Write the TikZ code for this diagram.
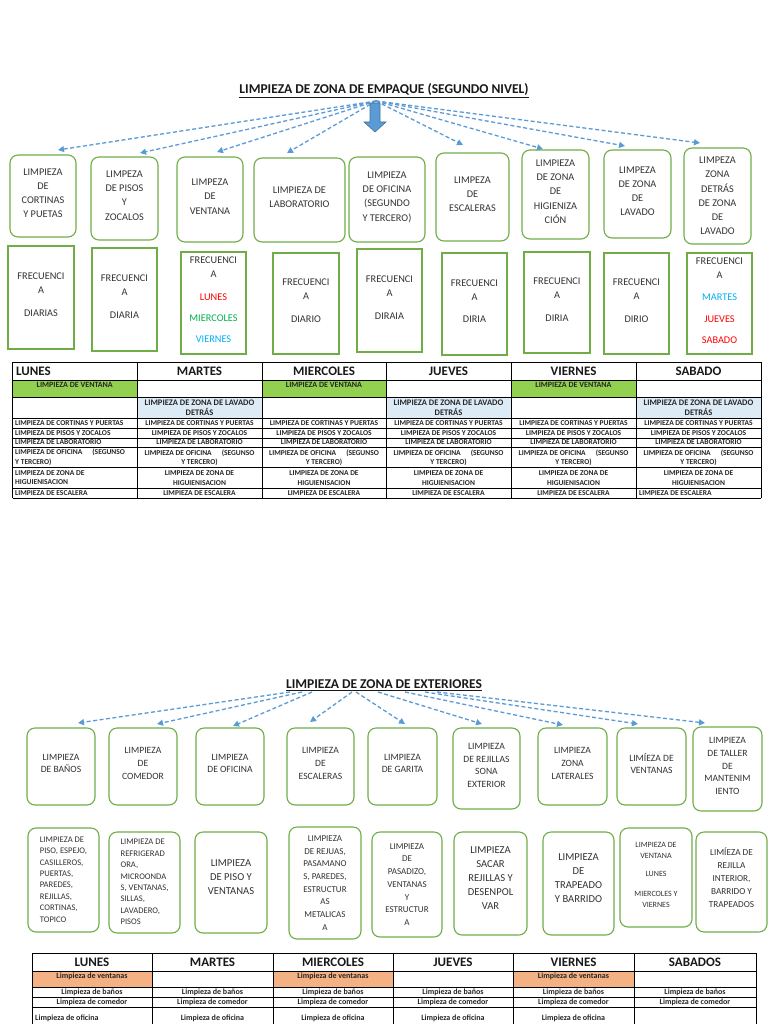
\documentclass[tikz,border=0pt]{standalone}
\usepackage{fontspec}
\setmainfont{Carlito}
\usetikzlibrary{arrows.meta}
\definecolor{grn}{HTML}{70AD47}
\definecolor{arrb}{HTML}{5B9BD5}
\definecolor{arrd}{HTML}{41719C}
\definecolor{txt}{HTML}{333333}
\definecolor{tgreen}{HTML}{92D050}
\definecolor{tblue}{HTML}{DDEBF7}
\definecolor{torange}{HTML}{F4B183}
\definecolor{fred}{HTML}{FF0000}
\definecolor{fgreen}{HTML}{00B050}
\definecolor{fcyan}{HTML}{00B0F0}
\newcommand\mybox[7]{\node[#1, minimum width={#5-#3}, minimum height={#6-#4}] (#2) at ({(#3+#5)/2},{(#4+#6)/2}) {#7};}
\begin{document}
\begin{tikzpicture}[x=1pt,y=-1pt,
  rb0/.style={draw=grn, line width=1.1pt, rounded corners=8pt, inner sep=0pt, align=center, text=txt},
  rbox/.style={rb0, text depth=6pt},
  sbox/.style={draw=grn, line width=1.1pt, inner sep=0pt, align=center, text=txt, text depth=6pt},
  fA/.style={font=\fontsize{10.3}{14.2}\selectfont},
  fB/.style={font=\fontsize{9.6}{12.6}\selectfont},
  fC/.style={font=\fontsize{8.6}{11.4}\selectfont},
  fD/.style={font=\fontsize{9}{12.7}\selectfont},
  fE/.style={font=\fontsize{10.6}{14}\selectfont},
  ttl/.style={font=\fontsize{13.5}{16}\selectfont\bfseries, inner sep=0pt, text=black!90},
  th/.style={font=\fontsize{13}{15}\selectfont\bfseries, inner sep=0pt, text=black!90},
  tt/.style={font=\fontsize{7.5}{9.3}\selectfont\bfseries, inner sep=0pt, text=black!85, align=center},
  tm/.style={font=\fontsize{8.5}{9.5}\selectfont\bfseries, inner sep=0pt, text=black!85, align=center},
  tl/.style={font=\fontsize{8}{10}\selectfont\bfseries, inner sep=0pt, text=black!85, align=center},
  tline/.style={draw=black, line width=0.6pt},
  dsh/.style={draw=arrb, line width=1.3pt, dash pattern=on 4pt off 2.5pt, -{Triangle[length=6pt,width=6pt]}}]
\useasboundingbox (0,0) rectangle (768,1024);
\fill[white] (0,0) rectangle (768,1024);

% ---------- Section 1 ----------
\node[ttl] (t1) at (384,91) {\underline{LIMPIEZA DE ZONA DE EMPAQUE (SEGUNDO NIVEL)}};
\coordinate (o1) at (376,101);
\foreach \n/\x/\y in {1/58/150, 2/140/153, 3/217/152, 4/287/153, 5/463/145, 6/543/149, 7/625/146, 8/700/143}{
  \coordinate (e\n) at (\x,\y);
  \draw[dsh] (o1) -- (e\n);
}
\filldraw[fill=arrb, draw=arrd, line width=0.6pt] (370,103) -- (380,103) -- (380,122) -- (386,122) -- (375,132) -- (364,122) -- (370,122) -- cycle;

\mybox{rbox,fA}{a1}{10}{155}{76}{237}{LIMPIEZA\\DE\\CORTINAS\\Y PUETAS}
\mybox{rbox,fA}{a2}{91}{157}{158}{240}{LIMPEZA\\DE PISOS\\Y\\ZOCALOS}
\mybox{rbox,fA}{a3}{177}{157}{243}{242}{LIMPEZA\\DE\\VENTANA}
\mybox{rbox,fA}{a4}{254}{158}{345}{242}{LIMPIEZA DE\\LABORATORIO}
\mybox{rbox,fA}{a5}{349}{157}{425}{242}{LIMPIEZA\\DE OFICINA\\(SEGUNDO\\Y TERCERO)}
\mybox{rbox,fA}{a6}{436}{153}{509}{241}{LIMPEZA\\DE\\ESCALERAS}
\mybox{rbox,fA}{a7}{522}{150}{589}{239}{LIMPIEZA\\DE ZONA\\DE\\HIGIENIZA\\CIÓN}
\mybox{rbox,fA}{a8}{604}{150}{671}{238}{LIMPEZA\\DE ZONA\\DE\\LAVADO}
\mybox{rb0,fA}{a9}{684}{148}{751}{244}{LIMPEZA\\ZONA\\DETRÁS\\DE ZONA\\DE\\LAVADO}

\mybox{sbox,fA}{f1}{8}{246}{74}{349}{FRECUENCI\\A\\[8pt]DIARIAS}
\mybox{sbox,fA}{f2}{92}{248}{157}{351}{FRECUENCI\\A\\[8pt]DIARIA}
\mybox{sbox,fA}{f3}{181}{252}{246}{354}{FRECUENCI\\A\\[8pt]\textcolor{fred}{LUNES}\\[7.5pt]\textcolor{fgreen}{MIERCOLES}\\[7pt]\textcolor{fcyan}{VIERNES}}
\mybox{sbox,fA}{f4}{273}{253}{339}{354}{FRECUENCI\\A\\[8pt]DIARIO}
\mybox{sbox,fA}{f5}{357}{249}{422}{352}{FRECUENCI\\A\\[8pt]DIRAIA}
\mybox{sbox,fA}{f6}{442}{253}{507}{355}{FRECUENCI\\A\\[8pt]DIRIA}
\mybox{sbox,fA}{f7}{524}{252}{590}{353}{FRECUENCI\\A\\[8pt]DIRIA}
\mybox{sbox,fA}{f8}{604}{253}{669}{354}{FRECUENCI\\A\\[8pt]DIRIO}
\mybox{sbox,fA}{f9}{687}{253}{752}{354}{FRECUENCI\\A\\[8pt]\textcolor{fcyan}{MARTES}\\[7.5pt]\textcolor{fred}{JUEVES}\\[7pt]\textcolor{fred}{SABADO}}

% ---------- Table 1 ----------
\fill[tgreen] (12.5,380) rectangle (137,397) (262,380) rectangle (386,397) (511,380) rectangle (636,397);
\fill[tblue] (137,397) rectangle (262,418) (386,397) rectangle (511,418) (636,397) rectangle (761,418);
\foreach \y in {362,380,397,418,428,438,447,467,488,498} \draw[tline] (12.5,\y) -- (761,\y);
\foreach \x in {12.5,137,262,386,511,636,761} \draw[tline] (\x,362) -- (\x,498);

\node[th, anchor=west] (h1) at (16,371) {LUNES};
\node[th] (h2) at (199.5,371) {MARTES};
\node[th] (h3) at (324,371) {MIERCOLES};
\node[th] (h4) at (448.5,371) {JUEVES};
\node[th] (h5) at (573.5,371) {VIERNES};
\node[th] (h6) at (698.5,371) {SABADO};

\node[tl] (g1) at (74.75,385) {LIMPIEZA DE VENTANA};
\node[tl] (g3) at (324,385) {LIMPIEZA DE VENTANA};
\node[tl] (g5) at (573.5,385) {LIMPIEZA DE VENTANA};
\node[tm] (l2) at (199.5,407.5) {LIMPIEZA DE ZONA DE LAVADO\\DETRÁS};
\node[tm] (l4) at (448.5,407.5) {LIMPIEZA DE ZONA DE LAVADO\\DETRÁS};
\node[tm] (l6) at (698.5,407.5) {LIMPIEZA DE ZONA DE LAVADO\\DETRÁS};

\node[tt, anchor=west] (r1c1) at (15,423) {LIMPIEZA DE CORTINAS Y PUERTAS};
\node[tt, anchor=west] (r2c1) at (15,433) {LIMPIEZA DE PISOS Y ZOCALOS};
\node[tt, anchor=west] (r3c1) at (15,442.5) {LIMPIEZA DE LABORATORIO};
\node[tt, anchor=west] (r4c1) at (15,457.5) {\begin{tabular}{@{}l@{}}LIMPIEZA DE OFICINA\hspace{10pt}(SEGUNSO\\Y TERCERO)\end{tabular}};
\node[tt, anchor=west] (r5c1) at (15,478) {\begin{tabular}{@{}l@{}}LIMPIEZA DE ZONA DE\\HIGUIENISACION\end{tabular}};
\node[tt, anchor=west] (r6c1) at (15,493) {LIMPIEZA DE ESCALERA};
\foreach \c/\x in {2/199.5,3/324,4/448.5,5/573.5,6/698.5}{
  \node[tt] (r1c\c) at (\x,423) {LIMPIEZA DE CORTINAS Y PUERTAS};
  \node[tt] (r2c\c) at (\x,433) {LIMPIEZA DE PISOS Y ZOCALOS};
  \node[tt] (r3c\c) at (\x,442.5) {LIMPIEZA DE LABORATORIO};
  \node[tt] (r4c\c) at (\x,457.5) {LIMPIEZA DE OFICINA\hspace{10pt}(SEGUNSO\\Y TERCERO)};
  \node[tt] (r5c\c) at (\x,478) {LIMPIEZA DE ZONA DE\\HIGUIENISACION};
}
\foreach \c/\x in {2/199.5,3/324,4/448.5,5/573.5}{
  \node[tt] (r6c\c) at (\x,493) {LIMPIEZA DE ESCALERA};
}
\node[tt, anchor=west] (r6c6) at (639,493) {LIMPIEZA DE ESCALERA};

% ---------- Section 2 ----------
\node[ttl] (t2) at (384,685) {\underline{LIMPIEZA DE ZONA DE EXTERIORES}};
\foreach \n/\sx/\ex/\ey in {1/290/78/723, 2/302/157/724, 3/312/233/726, 4/352/310/722, 5/356/405/724, 6/378/482/724, 7/405/563/725, 8/425/638/724, 9/437/705/723}{
  \coordinate (s\n) at (\sx,692);
  \coordinate (d\n) at (\ex,\ey);
  \draw[dsh] (s\n) -- (d\n);
}

\mybox{rbox,fB}{b1}{27}{728}{95}{805}{LIMPIEZA\\DE BAÑOS}
\mybox{rbox,fB}{b2}{109}{728}{177}{805}{LIMPIEZA\\DE\\COMEDOR}
\mybox{rbox,fB}{b3}{196}{728}{264}{805}{LIMPIEZA\\DE OFICINA}
\mybox{rbox,fB}{b4}{287}{728}{354}{805}{LIMPIEZA\\DE\\ESCALERAS}
\mybox{rbox,fB}{b5}{368}{728}{437}{805}{LIMPIEZA\\DE GARITA}
\mybox{rbox,fB}{b6}{453}{728}{520}{809}{LIMPIEZA\\DE REJILLAS\\SONA\\EXTERIOR}
\mybox{rbox,fB}{b7}{538}{728}{607}{805}{LIMPIEZA\\ZONA\\LATERALES}
\mybox{rbox,fB}{b8}{617}{728}{686}{805}{LIMÍEZA DE\\VENTANAS}
\mybox{rbox,fB}{b9}{693}{727}{762}{811}{LIMPIEZA\\DE TALLER\\DE\\MANTENIM\\IENTO}

\mybox{rb0,fC}{c1}{28}{828}{99}{932}{\begin{tabular}{@{}l@{}}LIMPIEZA DE\\PISO, ESPEJO,\\CASILLEROS,\\PUERTAS,\\PAREDES,\\REJILLAS,\\CORTINAS,\\TOPICO\end{tabular}}
\mybox{rb0,fC}{c2}{109}{832}{180}{933}{\begin{tabular}{@{}l@{}}LIMPIEZA DE\\REFRIGERAD\\ORA,\\MICROONDA\\S, VENTANAS,\\SILLAS,\\LAVADERO,\\PISOS\end{tabular}}
\mybox{rb0,fE,text depth=10pt}{c3}{195}{832}{267}{933}{LIMPIEZA\\DE PISO Y\\VENTANAS}
\mybox{rb0,fD}{c4}{289}{827}{361}{939}{LIMPIEZA\\DE REJUAS,\\PASAMANO\\S, PAREDES,\\ESTRUCTUR\\AS\\METALICAS\\A}
\mybox{rb0,fD}{c5}{372}{832}{442}{937}{LIMPIEZA\\DE\\PASADIZO,\\VENTANAS\\Y\\ESTRUCTUR\\A}
\mybox{rb0,fE,text depth=11pt}{c6}{454}{832}{527}{935}{LIMPIEZA\\SACAR\\REJILLAS Y\\DESENPOL\\VAR}
\mybox{rb0,fE,text depth=11pt}{c7}{543}{832}{614}{935}{LIMPIEZA\\DE\\TRAPEADO\\Y BARRIDO}
\mybox{rbox,font=\fontsize{8}{11}\selectfont}{c8}{620}{828}{692}{927}{LIMPIEZA DE\\VENTANA\\[7pt]LUNES\\[9pt]MIERCOLES Y\\VIERNES}
\mybox{rb0,font=\fontsize{9.2}{13}\selectfont,text depth=9pt}{c9}{696}{832}{767}{932}{LIMÍEZA DE\\REJILLA\\INTERIOR,\\BARRIDO Y\\TRAPEADOS}

% ---------- Table 2 ----------
\fill[torange] (32,971) rectangle (152,987) (273,971) rectangle (393,987) (513,971) rectangle (634,987);
\foreach \y in {953,971,987,997,1007} \draw[tline] (32,\y) -- (756,\y);
\foreach \x in {32,152,273,393,513,634,756} \draw[tline] (\x,953) -- (\x,1024);

\node[th] (k1) at (92,962) {LUNES};
\node[th] (k2) at (212.5,962) {MARTES};
\node[th] (k3) at (333,962) {MIERCOLES};
\node[th] (k4) at (453,962) {JUEVES};
\node[th] (k5) at (573.5,962) {VIERNES};
\node[th] (k6) at (695,962) {SABADOS};

\node[tl] (v1) at (92,976) {Limpieza de ventanas};
\node[tl] (v3) at (333,976) {Limpieza de ventanas};
\node[tl] (v5) at (573.5,976) {Limpieza de ventanas};
\foreach \c/\x in {1/92,2/212.5,3/333,4/453,5/573.5,6/695}{
  \node[tl] (q1c\c) at (\x,992) {Limpieza de baños};
  \node[tl] (q2c\c) at (\x,1002) {Limpieza de comedor};
}
\node[tl, anchor=west] (q3c1) at (35,1018) {Limpieza de oficina};
\foreach \c/\x in {2/212.5,3/333,4/453,5/573.5}{
  \node[tl] (q3c\c) at (\x,1018) {Limpieza de oficina};
}
\end{tikzpicture}
\end{document}
